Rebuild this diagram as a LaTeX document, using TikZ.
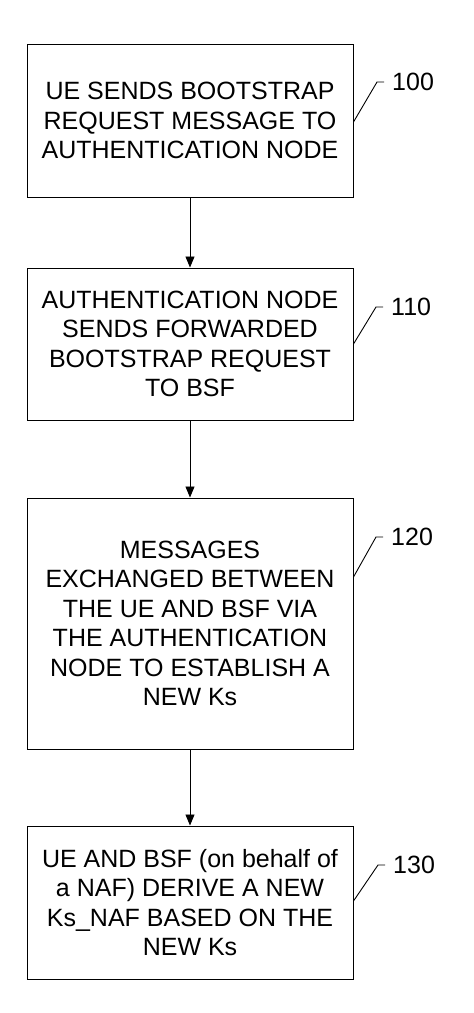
\documentclass[tikz,border=0pt]{standalone}
\usepackage{fontspec}
\setmainfont{Liberation Sans}
\usetikzlibrary{positioning}
\usetikzlibrary{arrows.meta}

\tikzset{
  stepbox/.style={draw=black, line width=1pt, align=center, minimum width=326pt,
    inner sep=0pt, font=\fontsize{25}{29.5}\selectfont},
  flow/.style={draw=black, line width=0.9pt, -{Triangle[length=11pt,width=9pt]}},
  tick/.style={draw=black, line width=0.9pt},
  num/.style={inner xsep=8pt, inner ysep=0pt, font=\fontsize{25}{30}\selectfont}
}

\begin{document}
\begin{tikzpicture}[x=1pt,y=1pt]
\useasboundingbox (0,0) rectangle (474,-1013);

\node[stepbox, minimum height=153pt] (s100) at (190,-120.5)
  {UE SENDS BOOTSTRAP\\REQUEST MESSAGE TO\\AUTHENTICATION NODE};
\node[stepbox, minimum height=152pt] (s110) at (190,-344)
  {AUTHENTICATION NODE\\SENDS FORWARDED\\BOOTSTRAP REQUEST\\TO BSF};
\node[stepbox, minimum height=251pt] (s120) at (190,-623.5)
  {MESSAGES\\EXCHANGED BETWEEN\\THE UE AND BSF VIA\\THE AUTHENTICATION\\NODE TO ESTABLISH A\\NEW Ks};
\node[stepbox, minimum height=153pt] (s130) at (190,-902.5)
  {UE AND BSF (on behalf of\\a NAF) DERIVE A NEW\\Ks\_NAF BASED ON THE\\NEW Ks};

\draw[flow] (s100) -- (s110);
\draw[flow] (s110) -- (s120);
\draw[flow] (s120) -- (s130);

% reference numerals
\coordinate (k100) at (377,-82);
\coordinate (k110) at (376,-307);
\coordinate (k120) at (376,-537);
\coordinate (k130) at (378,-865);
\node[num, right=7pt of k100] (n100) {100};
\node[num, right=7pt of k110] (n110) {110};
\node[num, right=7pt of k120] (n120) {120};
\node[num, right=7pt of k130] (n130) {130};

\draw[tick] ([yshift=-1.5pt]s100.east) -- (k100) -- (n100.west);
\draw[tick] (s110.east) -- (k110) -- (n110.west);
\draw[tick] ([yshift=46.5pt]s120.east) -- (k120) -- (n120.west);
\draw[tick] ([yshift=1.5pt]s130.east) -- (k130) -- (n130.west);
\end{tikzpicture}
\end{document}
